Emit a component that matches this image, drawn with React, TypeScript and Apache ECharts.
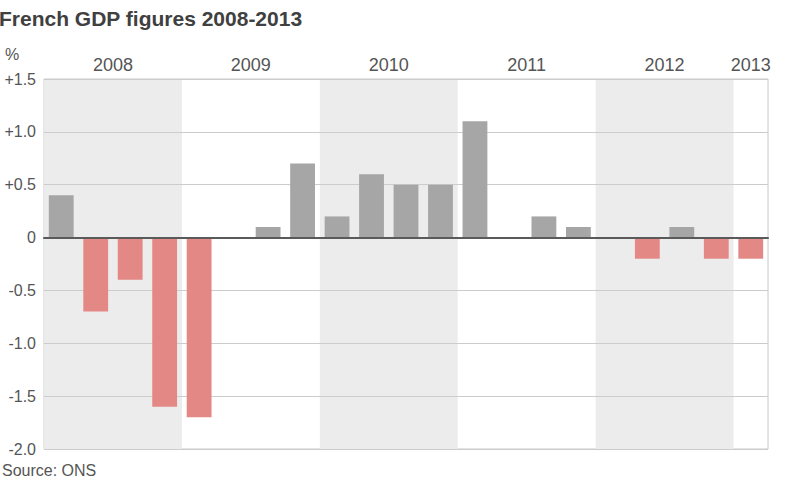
import { useRef, useEffect } from 'react';
import * as echarts from 'echarts';

// quarterly GDP change, %, Q1 2008 - Q1 2013
const quarters = [
  '2008 Q1', '2008 Q2', '2008 Q3', '2008 Q4',
  '2009 Q1', '2009 Q2', '2009 Q3', '2009 Q4',
  '2010 Q1', '2010 Q2', '2010 Q3', '2010 Q4',
  '2011 Q1', '2011 Q2', '2011 Q3', '2011 Q4',
  '2012 Q1', '2012 Q2', '2012 Q3', '2012 Q4',
  '2013 Q1',
];
const gdpValues = [
  0.4, -0.7, -0.4, -1.6,
  -1.7, 0, 0.1, 0.7,
  0.2, 0.6, 0.5, 0.5,
  1.1, 0, 0.2, 0.1,
  0, -0.2, 0.1, -0.2,
  -0.2,
];
const years = ['2008', '2009', '2010', '2011', '2012', '2013'];
const quartersInYear = [4, 4, 4, 4, 4, 1];
const shadedYears = ['2008', '2010', '2012'];

const FONT = "'Liberation Sans', Arial, Helvetica, sans-serif";

const App = () => {
  const chartRef = useRef<HTMLDivElement>(null);

  useEffect(() => {
    if (!chartRef.current) return;
    const chart = echarts.init(chartRef.current, null, { renderer: 'svg' });

    // one band per year, on a hidden 0..21 value axis
    let start = 0;
    const bands = years.map((y, i) => {
      const from = start;
      start += quartersInYear[i];
      return [
        {
          xAxis: from,
          name: y,
          itemStyle: { color: shadedYears.includes(y) ? '#ececec' : 'rgba(0,0,0,0)' },
        },
        { xAxis: start },
      ];
    });

    const option = {
      animation: false,
      title: {
        text: 'French GDP figures 2008-2013',
        left: -1,
        top: 8,
        padding: 0,
        textStyle: { fontSize: 21, fontWeight: 'bold', color: '#404040', fontFamily: FONT },
      },
      graphic: [
        {
          type: 'text',
          left: 5,
          top: 46,
          style: { text: '%', fontSize: 16, fill: '#555', fontFamily: FONT },
        },
        {
          type: 'text',
          left: 2,
          top: 462,
          style: { text: 'Source: ONS', fontSize: 16, fill: '#555', fontFamily: FONT },
        },
      ],
      grid: {
        left: 44,
        right: 32,
        top: 79,
        bottom: 38,
        show: true,
        borderColor: '#c8c8c8',
        borderWidth: 1,
      },
      xAxis: [
        {
          type: 'category',
          data: quarters,
          z: 3,
          axisLine: { onZero: true, lineStyle: { color: '#5a5a5a', width: 2 } },
          axisTick: { show: false },
          axisLabel: { show: false },
          splitLine: { show: false },
        },
        {
          type: 'value',
          min: 0,
          max: quarters.length,
          show: false,
        },
      ],
      yAxis: {
        type: 'value',
        min: -2,
        max: 1.5,
        interval: 0.5,
        z: 1,
        axisLine: { show: false },
        axisTick: { show: false },
        axisLabel: {
          color: '#555',
          fontSize: 16,
          fontFamily: FONT,
          margin: 8,
          formatter: (v: number) => (v > 0 ? '+' + v.toFixed(1) : v === 0 ? '0' : v.toFixed(1)),
        },
        splitLine: { lineStyle: { color: '#cccccc', width: 1 } },
      },
      series: [
        {
          type: 'line',
          xAxisIndex: 1,
          data: [],
          silent: true,
          markArea: {
            silent: true,
            z: 0,
            label: {
              show: true,
              position: 'top',
              distance: 5,
              color: '#555',
              fontSize: 18,
              fontFamily: FONT,
            },
            data: bands,
          },
        },
        {
          type: 'bar',
          data: gdpValues.map((v) => ({
            value: v,
            itemStyle: { color: v < 0 ? '#e48886' : '#a6a6a6' },
          })),
          barWidth: '72%',
          silent: true,
        },
      ],
    };

    chart.setOption(option);

    return () => {
      chart.dispose();
    };
  }, []);

  return (
    <div
      ref={chartRef}
      style={{ position: 'absolute', left: 0, top: 0, width: 800, height: 487, background: '#fff' }}
    />
  );
};

export default App;
